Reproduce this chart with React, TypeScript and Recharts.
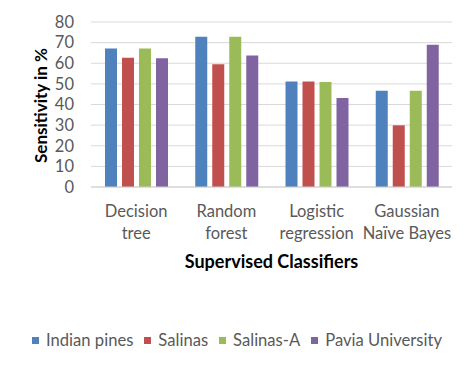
import React from 'react';
import { BarChart, Bar, XAxis, YAxis, CartesianGrid, Legend } from 'recharts';

const categories = ['Decision tree', 'Random forest', 'Logistic regression', 'Gaussian Naïve Bayes'];
const categoryLines: string[][] = [
  ['Decision', 'tree'],
  ['Random', 'forest'],
  ['Logistic', 'regression'],
  ['Gaussian', 'Naïve Bayes'],
];
const indianPines = [67.2, 72.9, 51.2, 46.7];
const salinas = [62.7, 59.5, 51.2, 29.9];
const salinasA = [67.2, 72.9, 50.9, 46.7];
const paviaUniversity = [62.4, 63.8, 43.2, 69.0];
const yTicks = [0, 10, 20, 30, 40, 50, 60, 70, 80];

const seriesNames = ['Indian pines', 'Salinas', 'Salinas-A', 'Pavia University'];
const seriesKeys = ['ip', 'sa', 'saa', 'pu'];
const seriesColors = ['#4F81BD', '#C0504D', '#9BBB59', '#8064A2'];

const data = categories.map((c, i) => ({
  name: c,
  ip: indianPines[i],
  sa: salinas[i],
  saa: salinasA[i],
  pu: paviaUniversity[i],
}));

const FONT = 'Lato, "Open Sans", sans-serif';
const TEXT = '#595959';

const XTick = (props: any) => {
  const { x, y, index } = props;
  const lines = categoryLines[index] || [String(props.payload.value)];
  return (
    <g transform={`translate(${x},${y})`}>
      {lines.map((l: string, i: number) => (
        <text key={i} x={0} y={30 + i * 21.7} textAnchor="middle" fill={TEXT} fontSize={16.5} fontFamily={FONT}>
          {l}
        </text>
      ))}
    </g>
  );
};

const LegendContent = () => (
  <div style={{ display: 'flex', justifyContent: 'center', alignItems: 'center', fontFamily: FONT, fontSize: 16.6, color: TEXT, paddingLeft: 11 }}>
    {seriesNames.map((n, i) => (
      <div key={n} style={{ display: 'flex', alignItems: 'center', marginRight: 11 }}>
        <span style={{ width: 7, height: 7, background: seriesColors[i], display: 'inline-block', marginRight: 7 }} />
        <span>{n}</span>
      </div>
    ))}
  </div>
);

export default function App() {
  return (
    <div style={{ position: 'absolute', left: 0, top: 0, background: '#fff' }}>
      <BarChart
        width={474}
        height={369}
        data={data}
        margin={{ top: 22, right: 22, left: 0, bottom: 102 }}
        barSize={12}
        barGap={5}
      >
        <CartesianGrid vertical={false} stroke="#D9D9D9" />
        <XAxis
          dataKey="name"
          height={80}
          axisLine={{ stroke: '#D0D0D0' }}
          tickLine={false}
          tickSize={0}
          tickMargin={0}
          interval={0}
          tick={<XTick />}
          label={{
            content: (p: any) => {
              const vb = p.viewBox;
              return (
                <text x={vb.x + vb.width / 2} y={vb.y + 81} textAnchor="middle" fontWeight="bold" fontSize={18} fill="#000" fontFamily={FONT}>
                  Supervised Classifiers
                </text>
              );
            },
          }}
        />
        <YAxis
          width={91}
          domain={[0, 80]}
          ticks={yTicks}
          interval={0}
          axisLine={false}
          tickLine={false}
          tickMargin={11}
          tick={{ fill: TEXT, fontSize: 16.5, fontFamily: FONT }}
          label={{
            content: (p: any) => {
              const vb = p.viewBox;
              const cx = 40;
              const cy = vb.y + vb.height / 2 + 1;
              return (
                <text x={cx} y={cy} transform={`rotate(-90, ${cx}, ${cy})`} textAnchor="middle" dominantBaseline="central" fontWeight="bold" fontSize={17} fill="#000" fontFamily={FONT}>
                  Sensitivity in %
                </text>
              );
            },
          }}
        />
        <Legend
          verticalAlign="middle"
          align="center"
          layout="horizontal"
          content={<LegendContent />}
          wrapperStyle={{ top: 330, left: 0, width: 474 }}
        />
        {seriesKeys.map((k, i) => (
          <Bar key={k} dataKey={k} name={seriesNames[i]} fill={seriesColors[i]} isAnimationActive={false} />
        ))}
      </BarChart>
    </div>
  );
}
